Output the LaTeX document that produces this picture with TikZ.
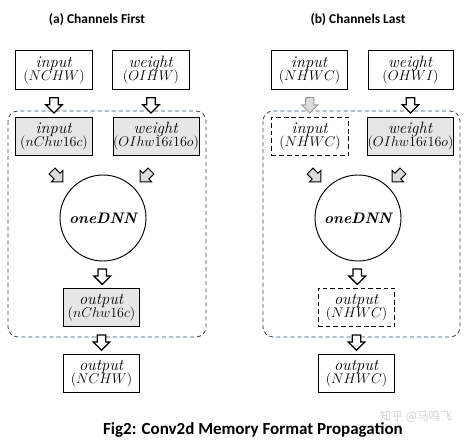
\documentclass[tikz,border=0pt]{standalone}
\usepackage{fontspec}
\usepackage{xcolor}
\usetikzlibrary{
		calc,
		shapes.arrows,
		positioning
	}
\newfontfamily\capfont{Carlito}
\newfontfamily\cjkfont{Noto Sans CJK SC}
\definecolor{boxgray}{HTML}{E6E6E6}
\definecolor{arrgray}{HTML}{DCDCDC}
\definecolor{framec}{HTML}{2E4A66}
\newcommand{\tlab}[2]{{\fontsize{14}{14}\selectfont\textit{#1}}\\[-1pt]{\fontsize{12}{12}\selectfont$(#2)$}}
\tikzset{
		>=stealth,
		tbox/.style={draw, line width=0.8pt, align=center, inner sep=0pt,
			minimum height=11.6mm, minimum width=23mm},
		gbox/.style={tbox, fill=boxgray},
		dbox/.style={tbox, dash pattern=on 4pt off 2.5pt},
		dnn/.style={draw, circle, line width=0.8pt, minimum size=25.8mm, inner sep=0pt,
			font=\fontsize{13}{14}\selectfont\bfseries\itshape},
		blk/.style={single arrow, draw, line width=1.1pt, fill=white, inner sep=1.1mm,
			minimum height=4.6mm, single arrow head extend=1.2mm,
			single arrow tip angle=90, shape border rotate=270},
		lblk/.style={blk, draw=gray!80, line width=0.8pt, fill=arrgray},
		dblk/.style={blk, line width=0.8pt, fill=arrgray},
		frame/.style={draw, dash pattern=on 3.5pt off 2.5pt, line width=0.7pt, rounded corners=3mm, draw=framec}
	}

\begin{document}
\begin{tikzpicture}[x=0.3mm, y=-0.3mm]
          \useasboundingbox (0,0) rectangle (473,443);

          % (a) channels first
          \node[font=\fontsize{11.5}{13}\selectfont\bfseries\capfont] (titA) at (97,20) {(a) Channels First};
          \draw[frame] (8,111) rectangle (206,337);
          \node[tbox] (inA) at (54,70) {\tlab{input}{NCHW}};
          \node[tbox] (wtA) at (151,70) {\tlab{weight}{OIHW}};
          \node[gbox] (ginA) at (54,136.5) {\tlab{input}{nChw16c}};
          \node[gbox, minimum width=25.8mm] (gwtA) at (156,136.5) {\tlab{weight}{OIhw16i16o}};
          \node[dnn] (dnnA) at (103,218) {oneDNN};
          \node[gbox] (goutA) at (101.5,307.5) {\tlab{output}{nChw16c}};
          \node[tbox] (outA) at (101.5,373.5) {\tlab{output}{NCHW}};

          \node[blk] (a1) at ($(inA.south)!0.5!(ginA.north)$) {};
          \node[blk] (a2) at ($(wtA.south)!0.5!(wtA.south |- ginA.north)$) {};
          \node[dblk, rotate=45] (a3) at (56,175) {};
          \node[dblk, rotate=-45] (a4) at (147,175) {};
          \node[blk] (a5) at ($(dnnA.south)!0.5!(goutA.north)$) {};
          \node[blk] (a6) at ($(goutA.south)!0.5!(outA.north)$) {};

          % (b) channels last
          \node[font=\fontsize{11.5}{13}\selectfont\bfseries\capfont] (titB) at (358,20) {(b) Channels Last};
          \draw[frame] (263,111) rectangle (460,337);
          \node[tbox] (inB) at (309.5,70) {\tlab{input}{NHWC}};
          \node[tbox, minimum width=25.5mm] (wtB) at (410.5,70) {\tlab{weight}{OHWI}};
          \node[dbox] (ginB) at (310,136.5) {\tlab{input}{NHWC}};
          \node[gbox, minimum width=25.5mm] (gwtB) at (410.5,136.5) {\tlab{weight}{OIhw16i16o}};
          \node[dnn] (dnnB) at (358,218) {oneDNN};
          \node[dbox] (doutB) at (356.5,307.5) {\tlab{output}{NHWC}};
          \node[tbox] (outB) at (356.5,373.5) {\tlab{output}{NHWC}};

          \node[lblk] (b1) at ($(inB.south)!0.5!(ginB.north)$) {};
          \node[blk] (b2) at ($(wtB.south)!0.5!(gwtB.north)$) {};
          \node[dblk, rotate=45] (b3) at (314,175) {};
          \node[dblk, rotate=-45] (b4) at (399,175) {};
          \node[blk] (b5) at ($(dnnB.south)!0.5!(doutB.north)$) {};
          \node[blk] (b6) at ($(doutB.south)!0.5!(outB.north)$) {};

          \node[font=\fontsize{14.5}{16}\selectfont\bfseries\capfont] (cap) at (253,430) {Fig2: Conv2d Memory Format Propagation};
          \node[font=\fontsize{10}{12}\cjkfont, text=black!18] (wm) at (416,417) {知乎 @马鸣飞};

          \end{tikzpicture}
\end{document}
